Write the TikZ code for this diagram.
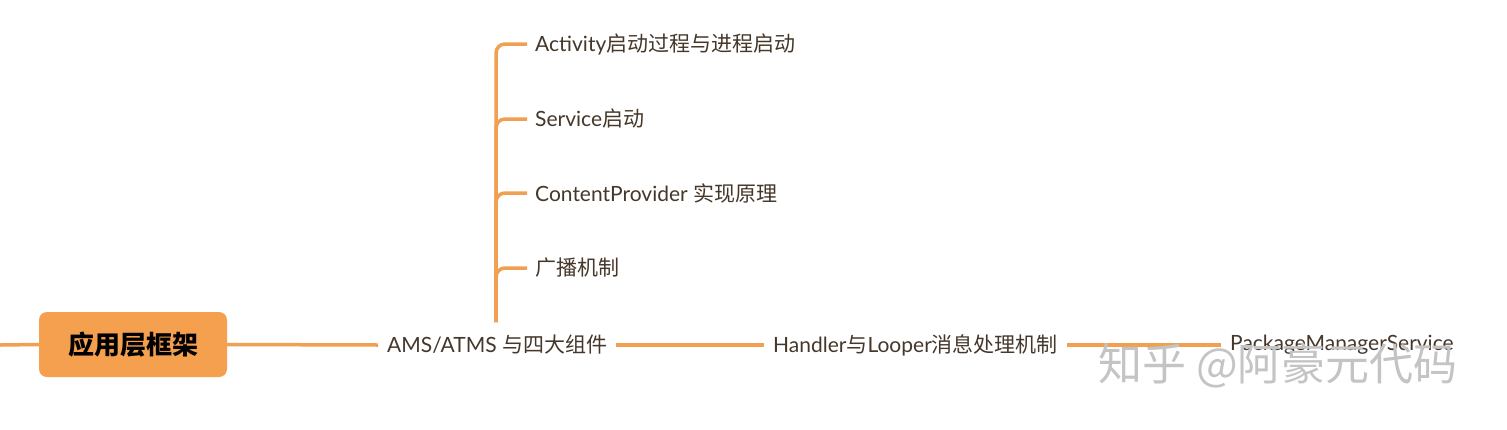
\documentclass[tikz,border=0pt]{standalone}
\usepackage{fontspec}
\setmainfont{Lato}
\newfontfamily\cjk{Noto Sans CJK SC}
\definecolor{lineor}{HTML}{F0A050}
\definecolor{rootfill}{HTML}{F5A04E}
\definecolor{txt}{HTML}{45372A}
\definecolor{wm}{HTML}{C4C4C4}
\begin{document}
\begin{tikzpicture}[x=1pt,y=-1pt,
  conn/.style={draw=lineor,line width=3.5pt},
  branch/.style={conn,rounded corners=9pt},
  rootbox/.style={fill=rootfill,rounded corners=8pt,minimum width=188pt,minimum height=65pt,inner sep=0pt,font=\fontsize{26}{30}\selectfont\cjk\bfseries,text=black},
  topic/.style={inner xsep=9pt,inner ysep=2pt,font=\fontsize{21}{25}\selectfont,text=txt},
  child/.style={topic,inner xsep=8pt,anchor=west}]
\useasboundingbox (0,0) rectangle (1507,429);
\fill[white] (0,0) rectangle (1507,429);
\coordinate (lstub) at (0,345);
\node[rootbox] (root) at (133,344.5) {应用层框架};
\node[topic,anchor=west] (ams) at (378,345) {AMS/ATMS {\cjk 与四大组件}};
\node[topic,anchor=west] (hdl) at (764,345) {Handler{\cjk 与}Looper{\cjk 消息处理机制}};
\node[topic,anchor=west] (pms) at (1221,345) {PackageManagerService};
\coordinate (spine) at (496,322);
\node[child] (c1) at (527,44) {Activity{\cjk 启动过程与进程启动}};
\node[child] (c2) at (527,119) {Service{\cjk 启动}};
\node[child] (c3) at (527,193) {ContentProvider {\cjk 实现原理}};
\node[child] (c4) at (527,268) {{\cjk 广播机制}};
\draw[conn] (lstub) -- (root.west);
\draw[conn] (root.east) -- (ams.west);
\draw[conn] (ams.east) -- (hdl.west);
\draw[conn] (hdl.east) -- (pms.west);
\foreach \c in {c1,c2,c3,c4} \draw[branch] (spine) |- (\c.west);
\node[anchor=west,inner sep=0pt,font=\fontsize{44}{48}\selectfont\cjk,text=wm] (wmk) at (1098,366) {知乎 @阿豪元代码};
\end{tikzpicture}
\end{document}
